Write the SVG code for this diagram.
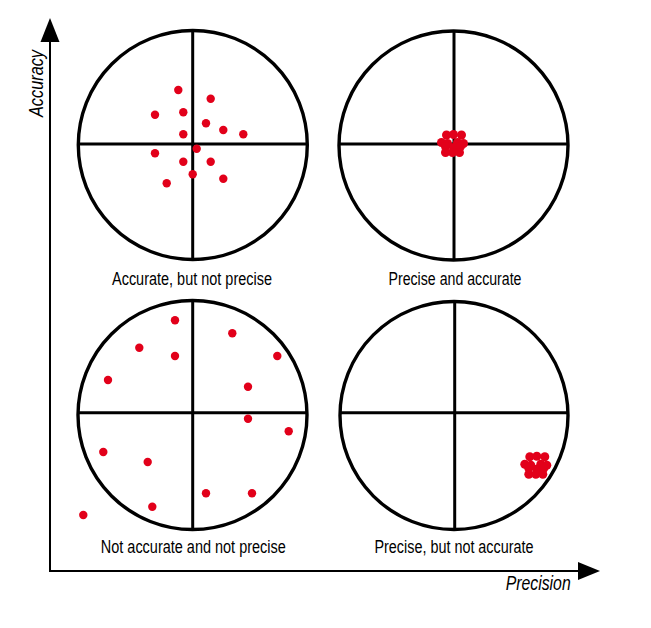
<svg xmlns="http://www.w3.org/2000/svg" xmlns:xlink="http://www.w3.org/1999/xlink" width="651" height="628" viewBox="0 0 651 628">
  <style>
    .ring { fill: none; stroke: #000; stroke-width: 3.4; }
    .cross { stroke: #000; stroke-width: 3; }
    .dot { fill: #e2001a; }
    .lbl { font-family: "Liberation Sans", Arial, sans-serif; font-size: 17.5px; fill: #000; text-anchor: middle; }
    .axlbl { font-family: "Liberation Sans", Arial, sans-serif; font-size: 21px; font-style: italic; fill: #000; }
    .axis { stroke: #000; stroke-width: 2; fill: none; }
  </style>
  <defs>
    <g id="cluster" class="dot">
      <circle cx="-6" cy="-8.5" r="4.5"/>
      <circle cx="1" cy="-9" r="4.5"/>
      <circle cx="9" cy="-8.5" r="4.5"/>
      <circle cx="-11" cy="-1" r="4.5"/>
      <circle cx="-5" cy="0" r="4.5"/>
      <circle cx="5" cy="-1" r="4.5"/>
      <circle cx="11" cy="0" r="4.5"/>
      <circle cx="-7" cy="3" r="4.5"/>
      <circle cx="1" cy="4" r="4.5"/>
      <circle cx="8" cy="3" r="4.5"/>
      <circle cx="-7" cy="9" r="4.5"/>
      <circle cx="0" cy="9" r="4.5"/>
      <circle cx="7" cy="9" r="4.5"/>
    </g>
  </defs>
  <rect width="651" height="628" fill="#fff"/>

  <g id="target-accurate-not-precise">
    <circle class="ring" cx="192.8" cy="145" r="114.5"/>
    <line class="cross" x1="78.3" y1="144" x2="307.3" y2="144"/>
    <line class="cross" x1="192.7" y1="30.5" x2="192.7" y2="259.5"/>
    <g class="dot">
      <circle cx="178.3" cy="90" r="4.2"/>
      <circle cx="210.7" cy="98.7" r="4.2"/>
      <circle cx="155" cy="114.7" r="4.2"/>
      <circle cx="183.3" cy="112.3" r="4.2"/>
      <circle cx="206" cy="123.3" r="4.2"/>
      <circle cx="223.3" cy="130" r="4.2"/>
      <circle cx="243.3" cy="134.3" r="4.2"/>
      <circle cx="183.3" cy="134.3" r="4.2"/>
      <circle cx="196.7" cy="148.7" r="4.2"/>
      <circle cx="155" cy="153.3" r="4.2"/>
      <circle cx="183.3" cy="161.7" r="4.2"/>
      <circle cx="210.7" cy="161.7" r="4.2"/>
      <circle cx="192.7" cy="174.3" r="4.2"/>
      <circle cx="166.7" cy="183.3" r="4.2"/>
      <circle cx="223.3" cy="178.7" r="4.2"/>
    </g>
    <text class="lbl" x="192" y="284.5" textLength="160" lengthAdjust="spacingAndGlyphs">Accurate, but not precise</text>
  </g>

  <g id="target-precise-accurate">
    <circle class="ring" cx="453.5" cy="145.5" r="114.5"/>
    <line class="cross" x1="339" y1="144" x2="568" y2="144"/>
    <line class="cross" x1="454" y1="31" x2="454" y2="260"/>
    <use xlink:href="#cluster" x="452.5" y="143.5"/>
    <text class="lbl" x="455" y="284.5" textLength="133" lengthAdjust="spacingAndGlyphs">Precise and accurate</text>
  </g>

  <g id="target-not-accurate-not-precise">
    <circle class="ring" cx="192.5" cy="415" r="114.5"/>
    <line class="cross" x1="78" y1="412.7" x2="307" y2="412.7"/>
    <line class="cross" x1="192.7" y1="300.5" x2="192.7" y2="529.5"/>
    <g class="dot">
      <circle cx="175" cy="320.3" r="4.2"/>
      <circle cx="232.3" cy="333.3" r="4.2"/>
      <circle cx="139.3" cy="347.7" r="4.2"/>
      <circle cx="175" cy="356" r="4.2"/>
      <circle cx="277.3" cy="356" r="4.2"/>
      <circle cx="108" cy="380" r="4.2"/>
      <circle cx="248" cy="386.7" r="4.2"/>
      <circle cx="248" cy="418.7" r="4.2"/>
      <circle cx="288.7" cy="431.3" r="4.2"/>
      <circle cx="103.3" cy="452" r="4.2"/>
      <circle cx="147.7" cy="462" r="4.2"/>
      <circle cx="206" cy="493.3" r="4.2"/>
      <circle cx="252" cy="493.3" r="4.2"/>
      <circle cx="152.3" cy="506.7" r="4.2"/>
      <circle cx="83.3" cy="515" r="4.2"/>
    </g>
    <text class="lbl" x="193.3" y="553" textLength="185" lengthAdjust="spacingAndGlyphs">Not accurate and not precise</text>
  </g>

  <g id="target-precise-not-accurate">
    <circle class="ring" cx="454" cy="415.5" r="114"/>
    <line class="cross" x1="340" y1="412.7" x2="568" y2="412.7"/>
    <line class="cross" x1="454.7" y1="301.5" x2="454.7" y2="529.5"/>
    <use xlink:href="#cluster" x="535.8" y="465.2"/>
    <text class="lbl" x="454" y="553" textLength="159" lengthAdjust="spacingAndGlyphs">Precise, but not accurate</text>
  </g>

  <g id="connectors">
    <polyline class="axis" points="50,40 50,571 580,571"/>
    <polygon points="50,18 59.5,42 40.5,42" fill="#000"/>
    <polygon points="600,571 578,562 578,580" fill="#000"/>
  </g>

  <g id="axis-labels">
    <text class="axlbl" transform="translate(42.5,117) rotate(-90)" x="0" y="0" textLength="67" lengthAdjust="spacingAndGlyphs">Accuracy</text>
    <text class="axlbl" x="505.7" y="589.5" textLength="65" lengthAdjust="spacingAndGlyphs">Precision</text>
  </g>
</svg>
